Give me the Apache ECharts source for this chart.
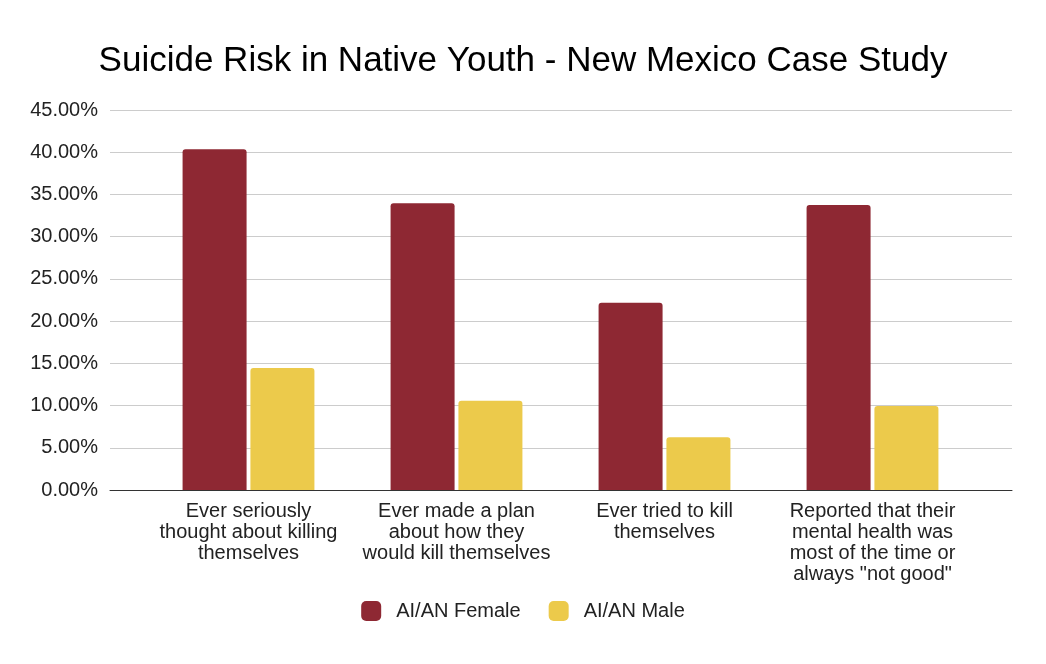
<!DOCTYPE html>
<html>
<head>
	<meta charset="UTF-8">
	<title>Suicide Risk in Native Youth</title>
	<style>
		html, body { margin: 0; padding: 0; background: #fff; }
		#container { width: 1046px; height: 664px; }
	</style>
</head>
<body>
	<div id="container"></div>
	<script src="https://cdn.jsdelivr.net/npm/echarts@6/dist/echarts.min.js"></script>
	<script>
		// data
		var categories = [
			'Ever seriously\nthought about killing\nthemselves',
			'Ever made a plan\nabout how they\nwould kill themselves',
			'Ever tried to kill\nthemselves',
			'Reported that their\nmental health was\nmost of the time or\nalways "not good"'
		];
		var female = [0.4035, 0.3395, 0.2218, 0.3375];
		var male = [0.1445, 0.1058, 0.0624, 0.0995];
		var yTicks = { min: 0, max: 0.45, step: 0.05 };

		var font = 'Liberation Sans, Arial, sans-serif';
		var dom = document.getElementById("container");
		var myChart = echarts.init(dom);

		var option = {
			textStyle: { fontFamily: font },
			title: {
				text: 'Suicide Risk in Native Youth - New Mexico Case Study',
				left: 'center',
				top: 39,
				textStyle: { fontFamily: font, fontSize: 35, fontWeight: 'normal', color: '#000' }
			},
			legend: {
				bottom: 38,
				left: 'center',
				itemWidth: 20,
				itemHeight: 20,
				itemGap: 28,
				textStyle: { fontFamily: font, fontSize: 20, color: '#222', padding: [0, 0, 0, 10] },
				data: ['AI/AN Female', 'AI/AN Male']
			},
			// grid 0 carries the gridlines, grid 1 carries the bars (narrower, like the original)
			grid: [
				{ left: 110, right: 34, top: 110, bottom: 174 },
				{ left: 144.5, right: 69.5, top: 110, bottom: 174 }
			],
			xAxis: [
				{
					gridIndex: 0, type: 'value', min: 0, max: 1,
					axisLine: { show: true, onZero: false, lineStyle: { color: '#333', width: 1 } },
					axisTick: { show: false }, axisLabel: { show: false }, splitLine: { show: false }
				},
				{
					gridIndex: 1, type: 'category', data: categories,
					axisLine: { show: false }, axisTick: { show: false },
					axisLabel: {
						interval: 0, fontFamily: font, fontSize: 20, color: '#222',
						lineHeight: 21, margin: 11
					}
				}
			],
			yAxis: [
				{
					gridIndex: 0, type: 'value', min: yTicks.min, max: yTicks.max, interval: yTicks.step,
					axisLine: { show: false }, axisTick: { show: false },
					axisLabel: {
						fontFamily: font, fontSize: 20, color: '#222', margin: 12,
						formatter: function (v) { return (v * 100).toFixed(2) + '%'; }
					},
					splitLine: { lineStyle: { color: '#cccccc', width: 1 } }
				},
				{
					gridIndex: 1, type: 'value', min: yTicks.min, max: yTicks.max, interval: yTicks.step,
					show: false, splitLine: { show: false }
				}
			],
			series: [
				{
					name: 'AI/AN Female', type: 'bar', xAxisIndex: 1, yAxisIndex: 1,
					data: female, barWidth: 64, barGap: '6%',
					itemStyle: { color: '#8e2833', borderRadius: [3, 3, 0, 0] }
				},
				{
					name: 'AI/AN Male', type: 'bar', xAxisIndex: 1, yAxisIndex: 1,
					data: male, barWidth: 64, barGap: '6%',
					itemStyle: { color: '#ecca4b', borderRadius: [3, 3, 0, 0] }
				}
			]
		};

		if (option && typeof option === "object") {
			myChart.setOption(option, true);
		}
	</script>
</body>
</html>
